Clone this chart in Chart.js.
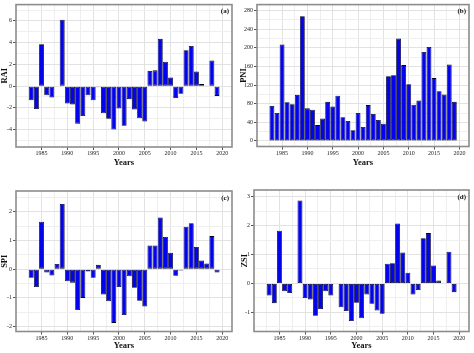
<!DOCTYPE html>
<html>
<head>
<meta charset="utf-8">
<script src="https://cdn.jsdelivr.net/npm/chart.js@4/dist/chart.umd.min.js"></script>
<style>
  body { margin:0; background:#fff; width:474px; height:353px; position:relative; overflow:hidden; }
  .p { position:absolute; }
</style>
</head>
<body>
<div class="p" style="left:0;top:0;width:237px;height:170px"><canvas id="ca"></canvas></div>
<div class="p" style="left:237px;top:0;width:237px;height:170px"><canvas id="cb"></canvas></div>
<div class="p" style="left:0;top:176px;width:237px;height:177px"><canvas id="cc"></canvas></div>
<div class="p" style="left:237px;top:176px;width:237px;height:177px"><canvas id="cd"></canvas></div>
<script>
// years 1983 - 2019
var years = [];
for (var y = 1983; y <= 2019; y++) years.push(y);

var rai = [-1.3,-2.1,3.85,-0.85,-1.05,0.03,6.1,-1.6,-1.7,-3.45,-2.75,-0.85,-1.3,-0.1,-2.5,-3.0,-4.0,-2.05,-3.65,-1.2,-2.15,-2.95,-3.25,1.4,1.45,4.35,2.25,0.8,-1.1,-0.7,3.3,3.7,1.35,0.2,0.02,2.35,-0.9];
var pni = [75,60,207,83,79,99,268,70,67,34,48,84,74,97,51,43,23,60,30,77,58,45,37,139,141,220,163,122,78,87,191,202,135,107,100,164,84];
var spi = [-0.3,-0.62,1.65,-0.12,-0.22,0.18,2.27,-0.42,-0.47,-1.42,-1.0,-0.08,-0.3,0.15,-0.88,-1.12,-1.87,-0.62,-1.6,-0.25,-0.65,-1.1,-1.3,0.82,0.82,1.8,1.12,0.57,-0.23,-0.05,1.48,1.6,0.77,0.3,0.2,1.15,-0.12];
var zsi = [-0.42,-0.68,1.82,-0.27,-0.33,0.02,2.87,-0.5,-0.55,-1.12,-0.88,-0.27,-0.42,-0.02,-0.82,-0.95,-1.3,-0.67,-1.2,-0.38,-0.7,-0.93,-1.05,0.68,0.7,2.07,1.07,0.37,-0.38,-0.23,1.56,1.74,0.62,0.1,0.02,1.1,-0.3];

var serif = "'Liberation Serif', 'DejaVu Serif', serif";

function isMult(v, m){ var r = v / m; return Math.abs(r - Math.round(r)) < 1e-6; }

// frame + panel letter
var framePlugin = {
  id: 'frame',
  afterDraw: function(chart, args, opts){
    var a = chart.chartArea, ctx = chart.ctx;
    ctx.save();
    ctx.strokeStyle = '#8c8c8c';
    ctx.lineWidth = 1.6;
    ctx.strokeRect(a.left, a.top, a.right - a.left, a.bottom - a.top);
    ctx.fillStyle = '#111';
    ctx.font = 'bold 7px ' + serif;
    ctx.textAlign = 'right';
    ctx.textBaseline = 'middle';
    ctx.fillText(opts.letter, a.right - 3, a.top + 7);
    ctx.restore();
  }
};

function panel(id, vals, name, letter, ymin, ymax, ystep, ymajor, yw, titlePad, pad, xh){
  var pts = years.map(function(yr, i){ return {x: yr, y: vals[i]}; });
  new Chart(document.getElementById(id), {
    type: 'bar',
    data: { datasets: [{
      data: pts,
      backgroundColor: 'rgb(4,4,236)',
      borderColor: '#00002a',
      borderWidth: 0.8,
      borderSkipped: false,
      barPercentage: 0.96,
      categoryPercentage: 1
    }]},
    plugins: [framePlugin],
    options: {
      responsive: true,
      maintainAspectRatio: false,
      animation: false,
      layout: { padding: pad },
      plugins: { legend: {display:false}, tooltip: {enabled:false}, frame: {letter: letter} },
      scales: {
        x: {
          type: 'linear', min: 1980.05, max: 2021.9, offset: false,
          grid: {
            offset: false, tickLength: 3,
            color: function(c){ return isMult(c.tick.value, 5) ? '#e2e2e2' : '#efefef'; },
            tickColor: function(c){ var v = c.tick.value; return (isMult(v,5) && v >= 1985 && v <= 2020) ? '#555' : 'rgba(0,0,0,0)'; }
          },
          border: { display: false },
          ticks: {
            stepSize: 2.5, autoSkip: false, includeBounds: false, maxRotation: 0, padding: 0,
            color: '#222', font: { family: serif, size: 6 },
            callback: function(v){ return (isMult(v,5) && v >= 1985 && v <= 2020) ? String(Math.round(v)) : ''; }
          },
          title: { display: true, text: 'Years', color: '#111', font: { family: serif, size: 8.5, weight: 'bold' }, padding: {top:0, bottom: 2} },
          afterFit: function(s){ s.height = xh; }
        },
        y: {
          min: ymin, max: ymax,
          grid: {
            tickLength: 3,
            color: function(c){ return isMult(c.tick.value, ymajor) ? '#e2e2e2' : '#efefef'; },
            tickColor: function(c){ return isMult(c.tick.value, ymajor) ? '#555' : 'rgba(0,0,0,0)'; }
          },
          border: { display: false },
          ticks: {
            stepSize: ystep, autoSkip: false, includeBounds: false, padding: 1,
            color: '#222', font: { family: serif, size: 6 },
            callback: function(v){ return isMult(v, ymajor) ? String(Math.round(v)) : ''; }
          },
          title: { display: true, text: name, color: '#111', font: { family: serif, size: 8.5, weight: 'bold' }, padding: {top: titlePad, bottom: 0} },
          afterFit: function(s){ s.width = yw; }
        }
      }
    }
  });
}

panel('ca', rai, 'RAI', '(a)', -5.6, 7.5, 1, 2, 16, 0, {top:4, right:5, left:0, bottom:0}, 23);
panel('cb', pni, 'PNI', '(b)', -12, 293, 20, 40, 20, 1.9, {top:4, right:5, left:0, bottom:0}, 23.5);
panel('cc', spi, 'SPI', '(c)', -2.17, 2.72, 0.5, 1, 16, 0, {top:15, right:5, left:0, bottom:0}, 21.5);
panel('cd', zsi, 'ZSI', '(d)', -1.66, 3.23, 0.5, 1, 17, 2.2, {top:14, right:5, left:0, bottom:0}, 21.5);
</script>
</body>
</html>
